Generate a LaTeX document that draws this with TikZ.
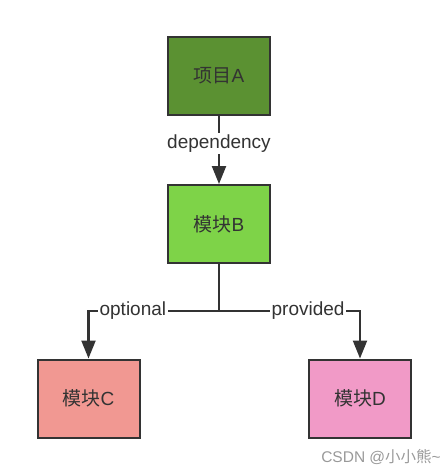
\documentclass[tikz,border=0pt]{standalone}
\usepackage{fontspec}
\setmainfont{Liberation Sans}
\newfontfamily\cjk{Noto Sans CJK SC}
\usetikzlibrary{arrows.meta}
\definecolor{lineC}{HTML}{333333}
\definecolor{fillA}{HTML}{5B9132}
\definecolor{fillB}{HTML}{7ED348}
\definecolor{fillC}{HTML}{F19892}
\definecolor{fillD}{HTML}{F19AC7}
\tikzset{
  box/.style={draw=lineC, line width=2pt, minimum width=102pt, minimum height=78pt,
    inner sep=0pt, text=lineC, font=\fontsize{19}{22}\selectfont},
  conn/.style={draw=lineC, line width=2.2pt, -{Triangle[length=18pt,width=14pt]}},
  lbl/.style={fill=white, text=lineC, inner sep=1.5pt, font=\fontsize{19}{22}\selectfont},
}
\begin{document}
\begin{tikzpicture}[x=1pt,y=-1pt]
\useasboundingbox (0,0) rectangle (448,475);
\node[box, fill=fillA] (A) at (219,76) {{\cjk 项目}A};
\node[box, fill=fillB] (B) at (219,224) {{\cjk 模块}B};
\node[box, fill=fillC] (C) at (88.5,398.5) {{\cjk 模块}C};
\node[box, fill=fillD] (D) at (360,398.5) {{\cjk 模块}D};
\coordinate (split) at (219,311);
\draw[conn] (A.south) -- node[lbl, pos=0.4] {dependency} (B.north);
\draw[draw=lineC, line width=2.2pt] (B.south) -- (split);
\draw[conn] (split) -| node[lbl, pos=0.33] {optional} (C.north);
\draw[conn] (split) -| node[lbl, pos=0.316] {provided} (D.north);
\node[text=black!40, font=\fontsize{15.5}{18}\selectfont, anchor=east, inner sep=0pt] (wm) at (441,457) {CSDN @{\cjk 小小熊}\textasciitilde};
\end{tikzpicture}
\end{document}
